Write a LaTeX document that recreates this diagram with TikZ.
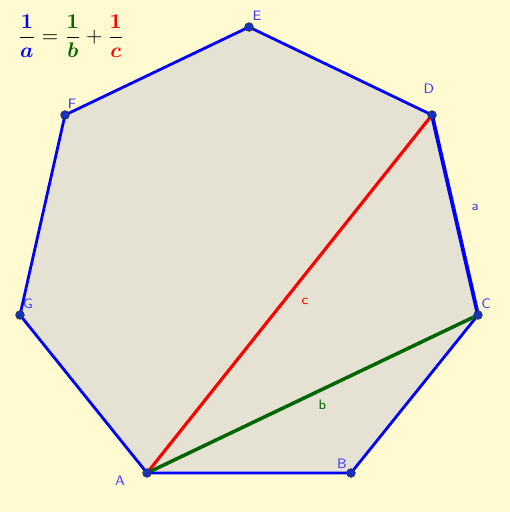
\documentclass[tikz,border=0pt]{standalone}
\usepackage{amsmath,amssymb}
\usepackage{tikz}
\usetikzlibrary{positioning}

\definecolor{paper}{RGB}{255,250,207}
\definecolor{hepta}{RGB}{229,226,211}
\definecolor{edgeblue}{RGB}{0,0,255}
\definecolor{labelblue}{RGB}{60,60,255}
\definecolor{darkgreen}{RGB}{0,100,0}
\definecolor{dotblue}{RGB}{20,50,190}

\tikzset{
  side/.style={edgeblue, line width=1.6pt, line join=round},
  lbl/.style={font=\sffamily\fontsize{7.8}{9}\selectfont, inner sep=0pt},
  vlabel/.style={lbl, labelblue},
  vdot/.style={circle, fill=dotblue, draw=black!80, line width=0.3pt, inner sep=0pt, minimum size=5pt}
}

\begin{document}
\begin{tikzpicture}[x=0.02cm, y=-0.02cm]
      % background
      \fill[paper] (0,0) rectangle (510,512);
      \useasboundingbox (0,0) rectangle (510,512);

      \coordinate (A) at (147,473);
      \coordinate (B) at (351,473);
      \coordinate (C) at (478,315);
      \coordinate (D) at (432,115);
      \coordinate (E) at (249,27);
      \coordinate (F) at (65,115);
      \coordinate (G) at (20,315);

      \fill[hepta] (A) -- (B) -- (C) -- (D) -- (E) -- (F) -- (G) -- cycle;

      \draw[side] (A) -- (B) -- (C);
      \draw[side] (D) -- (E) -- (F) -- (G) -- (A);
      \draw[side, line width=2.2pt] (C) -- (D) node[pos=0.54, xshift=0.44cm, vlabel] (la) {a};

      \draw[red, line width=1.8pt] (A) -- (D) node[pos=0.48, xshift=0.42cm, lbl, red] (lc) {c};
      \draw[darkgreen, line width=2pt] (A) -- (C) node[pos=0.53, yshift=-0.32cm, lbl, darkgreen] (lb) {b};

      \foreach \p in {A,B,C,D,E,F,G}
        \node[vdot] (d\p) at (\p) {};

      \node[vlabel] (nA) at (120,481) {A};
      \node[vlabel] (nB) at (342,464) {B};
      \node[vlabel] (nC) at (486,304) {C};
      \node[vlabel] (nD) at (429,89) {D};
      \node[vlabel] (nE) at (257,16) {E};
      \node[vlabel] (nF) at (72,104) {F};
      \node[vlabel] (nG) at (28,304) {G};

      \node[inner sep=0pt, scale=1.2] (eq) at (71,36) {$\displaystyle \frac{\color{edgeblue}\mathbf{1}}{\color{edgeblue}\boldsymbol{a}} = \frac{\color{darkgreen}\mathbf{1}}{\color{darkgreen}\boldsymbol{b}} + \frac{\color{red}\mathbf{1}}{\color{red}\boldsymbol{c}}$};
    \end{tikzpicture}
\end{document}
